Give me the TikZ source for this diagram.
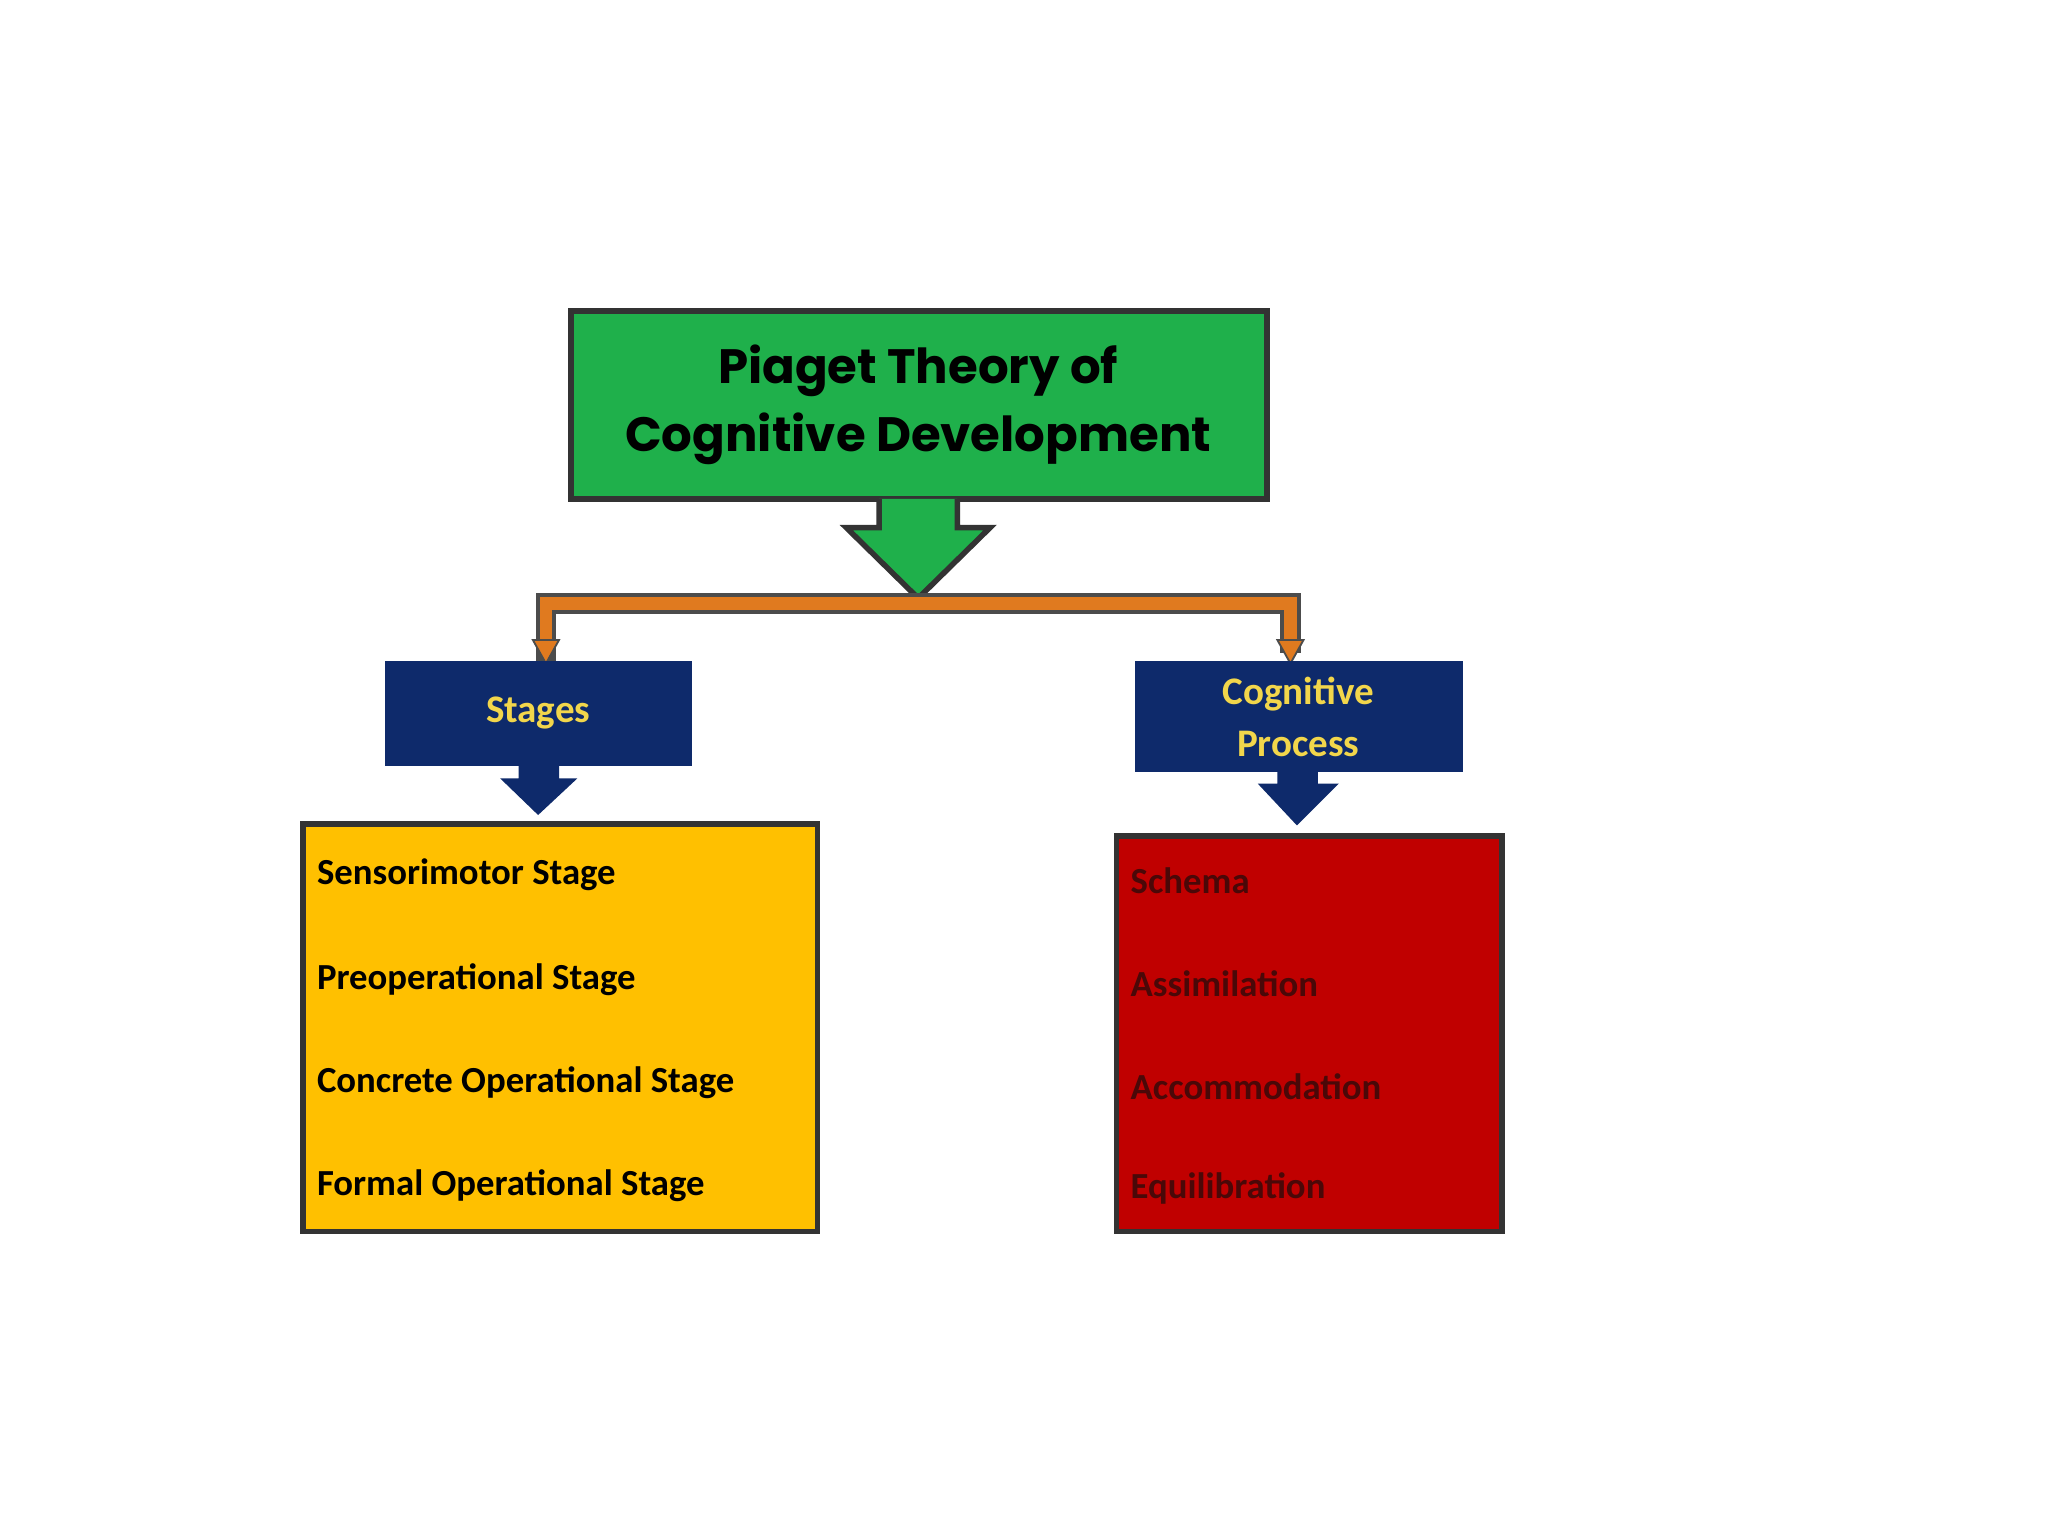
\documentclass[tikz,border=0pt]{standalone}
\usepackage{fontspec}
\setmainfont{Carlito}
\newfontfamily\titlefont{Poppins}
\definecolor{gbox}{HTML}{1FB04B}
\definecolor{navy}{HTML}{0E2A6B}
\definecolor{ytxt}{HTML}{F2D64B}
\definecolor{ybox}{HTML}{FFC000}
\definecolor{rbox}{HTML}{C00000}
\definecolor{rtxt}{HTML}{4A0808}
\definecolor{orng}{HTML}{E07A1F}
\begin{document}
\begin{tikzpicture}[x=0.01cm,y=-0.01cm,
  box/.style={draw=black!80,line width=1.2pt},
  itm/.style={anchor=west,font=\bfseries\fontsize{8}{9.6}\selectfont,inner sep=0pt}]
\useasboundingbox[fill=white] (0,0) rectangle (1568,1176);
% title
\draw[box,fill=gbox] (437,238) rectangle (970,382);
\node[font=\titlefont\bfseries\fontsize{10.5}{14.8}\selectfont,align=center] (title) at (703,310) {Piaget Theory of\\Cognitive Development};
\draw[box,fill=gbox] (673,382) -- (673,404) -- (648,404) -- (703,458) -- (758,404) -- (733,404) -- (733,382);
\coordinate (tip) at (703,462);
% orange connector
\coordinate (L) at (418,462); \coordinate (R) at (988,462);
\coordinate (Lt) at (418,508); \coordinate (Rt) at (988,508);
\draw[black!70,line width=4.5pt] (Lt) -- ++(0,-8) |- (R) -- ++(0,38);
\draw[orng,line width=2.8pt] (418,500) |- (R) -- (988,500);
\fill[orng,draw=black!70] (408,490) -- (428,490) -- (Lt) -- cycle;
\fill[orng,draw=black!70] (978,490) -- (998,490) -- (Rt) -- cycle;
% stages
\draw[box,fill=navy,draw=navy] (297,508) rectangle (528,584);
\node[text=ytxt,font=\bfseries\fontsize{8.5}{10}\selectfont] (st) at (412,546) {Stages};
\fill[navy] (397,584) -- (397,596) -- (383,596) -- (412,624) -- (442,596) -- (428,596) -- (428,584) -- cycle;
% cognitive process
\draw[box,fill=navy,draw=navy] (871,508) rectangle (1118,589);
\node[text=ytxt,font=\bfseries\fontsize{8.5}{11.3}\selectfont,align=center] (cp) at (994,549) {Cognitive\\Process};
\fill[navy] (978,589) -- (978,600) -- (963,600) -- (993,632) -- (1025,600) -- (1009,600) -- (1009,589) -- cycle;
% yellow
\draw[box,fill=ybox] (232,631) rectangle (626,943);
\node[itm] (s1) at (242,670) {Sensorimotor Stage};
\node[itm] (s2) at (242,750) {Preoperational Stage};
\node[itm] (s3) at (242,829) {Concrete Operational Stage};
\node[itm] (s4) at (242,908) {Formal Operational Stage};
% red
\draw[box,fill=rbox] (855,640) rectangle (1150,943);
\node[itm,text=rtxt] (c1) at (865,674) {Schema};
\node[itm,text=rtxt] (c2) at (865,753) {Assimilation};
\node[itm,text=rtxt] (c3) at (865,832) {Accommodation};
\node[itm,text=rtxt] (c4) at (865,910) {Equilibration};
\end{tikzpicture}
\end{document}
